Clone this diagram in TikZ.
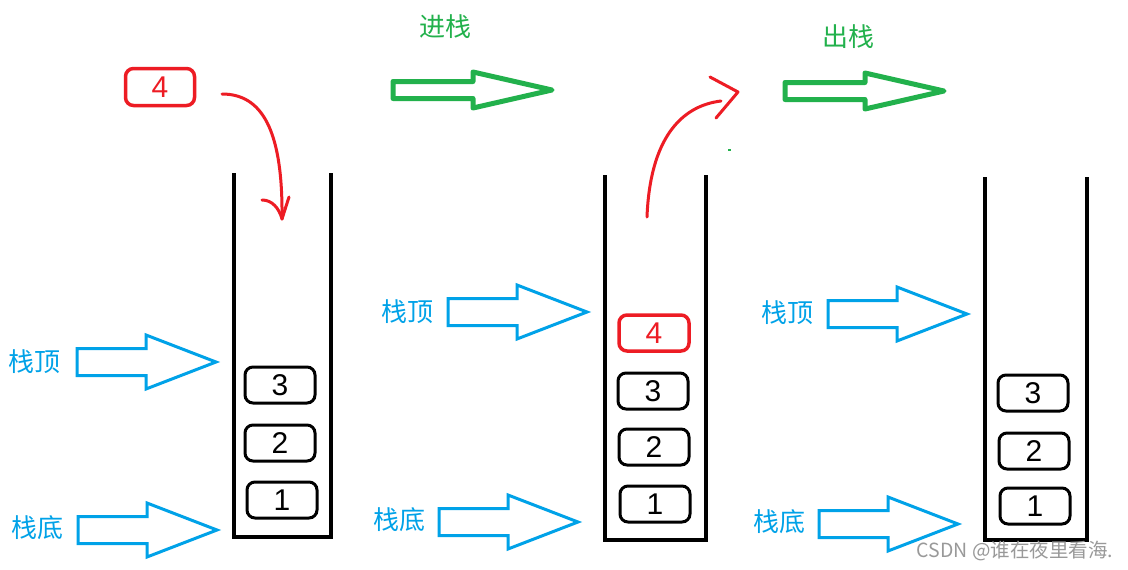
\documentclass[tikz,border=0pt]{standalone}
\usepackage{fontspec}
\setmainfont{Liberation Sans}
\newfontfamily\cjk{Noto Sans CJK SC}
\definecolor{pblue}{HTML}{00A2E8}
\definecolor{pgreen}{HTML}{22B14C}
\definecolor{pred}{HTML}{ED1C24}
\begin{document}
\begin{tikzpicture}[x=1pt,y=-1pt,
  wall/.style={line width=4pt, line join=miter},
  numbox/.style={draw=black, line width=3pt, rounded corners=8pt, minimum width=70pt, minimum height=36pt, inner sep=0pt, font=\fontsize{30}{30}\selectfont},
  redbox/.style={numbox, draw=pred, text=pred, line width=3.5pt},
  bluelabel/.style={text=pblue, font=\cjk\fontsize{26}{28}\selectfont, inner sep=0pt},
  greenlabel/.style={text=pgreen, font=\cjk\fontsize{26}{28}\selectfont, inner sep=0pt},
  redcurve/.style={draw=pred, line width=3pt, line cap=round, line join=round},
  bluearrow/.pic={\draw[draw=pblue, line width=3pt, line join=miter]
     (0,-13.5) -- (69,-13.5) -- (69,-27) -- (139,0) -- (69,27) -- (69,13.5) -- (0,13.5) -- cycle;},
  greenarrow/.pic={\draw[draw=pgreen, line width=5pt, line join=round]
     (0,-8.5) -- (80,-8.5) -- (80,-18) -- (159,0) -- (80,18) -- (80,8.5) -- (0,8.5) -- cycle;}
]
\useasboundingbox[fill=white] (0,0) rectangle (1128,570);

% containers
\draw[wall] (234,173) -- (234,537) -- (331,537) -- (331,173);
\draw[wall] (605,175) -- (605,540) -- (706,540) -- (706,175);
\draw[wall] (984.5,177) -- (984.5,540) -- (1086.5,540) -- (1086.5,177);

% stack 1
\node[numbox] (s1b3) at (280,385) {3};
\node[numbox] (s1b2) at (280,443) {2};
\node[numbox] (s1b1) at (282,500) {1};
% stack 2
\node[redbox] (s2b4) at (654,333) {4};
\node[numbox] (s2b3) at (653,391) {3};
\node[numbox] (s2b2) at (654,447) {2};
\node[numbox] (s2b1) at (655,504) {1};
% stack 3
\node[numbox] (s3b3) at (1033,393) {3};
\node[numbox] (s3b2) at (1034,451) {2};
\node[numbox] (s3b1) at (1035,506) {1};

% incoming element
\node[redbox, minimum width=69pt, minimum height=37pt] (new4) at (160,87) {4};

% red curved arrows
\coordinate (c1s) at (222,94);
\coordinate (c1e) at (282,219);
\draw[redcurve] (c1s) .. controls (262,94) and (283,130) .. (c1e);
\draw[redcurve] (262,200) .. controls (272,200) and (279,208) .. (c1e) -- (289,197);
\coordinate (c2s) at (647,217);
\coordinate (c2e) at (721,101);
\coordinate (c2t) at (738,92);
\draw[redcurve] (c2s) .. controls (650,140) and (680,106) .. (c2e);
\draw[redcurve] (710,77) -- (c2t) -- (716,118);

% green stray mark
\draw[pgreen, line width=1.5pt] (728,150) -- (731,150);

% green arrows + labels
\pic at (393,90) {greenarrow};
\pic at (785,91) {greenarrow};
\node[greenlabel] (push) at (445,27) {进栈};
\node[greenlabel] (pop) at (848,37) {出栈};

% blue arrows + labels
\node[bluelabel] (t1) at (35,362) {栈顶};
\pic at (77,362) {bluearrow};
\node[bluelabel] (b1) at (38,528) {栈底};
\pic at (78,530) {bluearrow};

\node[bluelabel] (t2) at (407,312) {栈顶};
\pic at (448,312) {bluearrow};
\node[bluelabel] (b2) at (399,520) {栈底};
\pic at (439,522) {bluearrow};

\node[bluelabel] (t3) at (787,313) {栈顶};
\pic at (828,314) {bluearrow};
\node[bluelabel] (b3) at (779,522) {栈底};
\pic at (819,524) {bluearrow};

% watermark
\node[text=black!40, font=\cjk\fontsize{19.5}{21}\selectfont, inner sep=0pt] (wm) at (1015,551) {CSDN @谁在夜里看海.};
\end{tikzpicture}
\end{document}
